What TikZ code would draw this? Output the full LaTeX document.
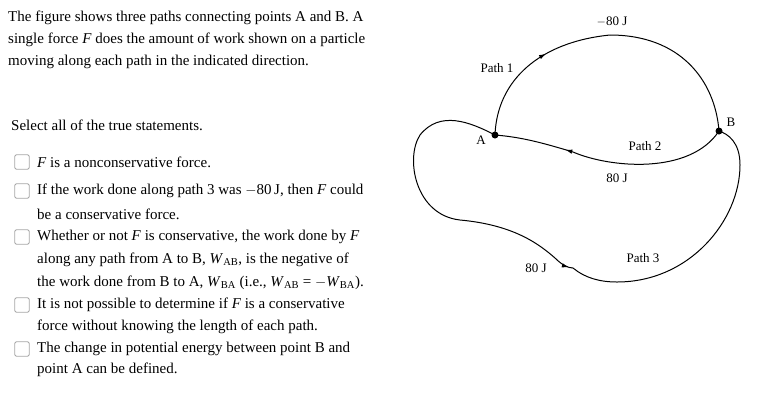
\documentclass[tikz,border=0pt]{standalone}
\usepackage{fontspec}
\setmainfont{Liberation Serif}
\usetikzlibrary{decorations.markings,arrows.meta}
\begin{document}
\begin{tikzpicture}[x=1pt,y=-1pt,
 txt/.style={anchor=west,inner sep=0pt,font=\fontsize{15}{17}\selectfont},
 lbl/.style={inner sep=0pt,font=\fontsize{13}{15}\selectfont},
 cbox/.style={draw=gray!70,line width=0.8pt,rounded corners=1.5pt,minimum size=14.5pt,inner sep=0pt},
 curve/.style={line width=1pt},
 arr/.style={postaction={decorate},decoration={markings,mark=at position #1 with {\arrow{Latex[length=7pt,width=4.5pt]}}}},
 dot/.style={circle,fill,inner sep=0pt,minimum size=7pt}]
\useasboundingbox (0,0) rectangle (768,400);
\node[txt] (t1) at (8,18) {The figure shows three paths connecting points A and B. A};
\node[txt] (t2) at (8,40) {single force \textit{F} does the amount of work shown on a particle};
\node[txt] (t3) at (8,62) {moving along each path in the indicated direction.};
\node[txt] (t4) at (11,125) {Select all of the true statements.};
\foreach \y/\n in {162/c1,191/c2,237/c3,305/c4,349/c5}
  \node[cbox] (\n) at (22,\y) {};
\node[txt] (s1) at (37,162) {\textit{F} is a nonconservative force.};
\node[txt] (s2) at (37,191) {If the work done along path 3 was $-$80\,J, then \textit{F} could};
\node[txt] (s2b) at (37,214) {be a conservative force.};
\node[txt] (s3) at (37,237) {Whether or not \textit{F} is conservative, the work done by \textit{F}};
\node[txt] (s3b) at (37,260) {along any path from A to B, \textit{W}$_{\mathrm{AB}}$, is the negative of};
\node[txt] (s3c) at (37,283) {the work done from B to A, \textit{W}$_{\mathrm{BA}}$ (i.e., \textit{W}$_{\mathrm{AB}}$ = $-$\textit{W}$_{\mathrm{BA}}$).};
\node[txt] (s4) at (37,305) {It is not possible to determine if \textit{F} is a conservative};
\node[txt] (s4b) at (37,327) {force without knowing the length of each path.};
\node[txt] (s5) at (37,349) {The change in potential energy between point B and};
\node[txt] (s5b) at (37,370) {point A can be defined.};
% diagram
\node[dot] (A) at (495,135) {};
\node[dot] (B) at (719,131) {};
\coordinate (top) at (610,35);
\coordinate (m2) at (573,152);
\coordinate (m3) at (573,268);
\draw[curve,arr=0.6] (A.center) .. controls (497,80) and (540,42) .. (top);
\draw[curve] (top) .. controls (680,35) and (715,80) .. (B.center);
\draw[curve] (B.center) .. controls (690,175) and (610,168) .. (m2);
\draw[curve,arr=0.1] (m2) .. controls (540,142) and (520,137) .. (A.center);
\draw[curve] (A.center) .. controls (470,122) and (440,110) .. (420,135) .. controls (405,158) and (415,215) .. (460,220) .. controls (515,225) and (540,245) .. (555,258);
\draw[curve,arr=0.8] (555,258) .. controls (562,265) and (568,268) .. (m3);
\draw[curve] (m3) .. controls (585,278) and (600,282) .. (617,282) .. controls (690,282) and (740,220) .. (740,165) .. controls (740,142) and (728,134) .. (B.center);
\node[lbl] (l1) at (612,22) {$-$80 J};
\node[lbl] (l2) at (497,68) {Path 1};
\node[lbl] (la) at (481,140) {A};
\node[lbl] (lb) at (731,122) {B};
\node[lbl] (l3) at (645,146) {Path 2};
\node[lbl] (l4) at (617,178) {80 J};
\node[lbl] (l5) at (643,258) {Path 3};
\node[lbl] (l6) at (536,268) {80 J};
\end{tikzpicture}
\end{document}
